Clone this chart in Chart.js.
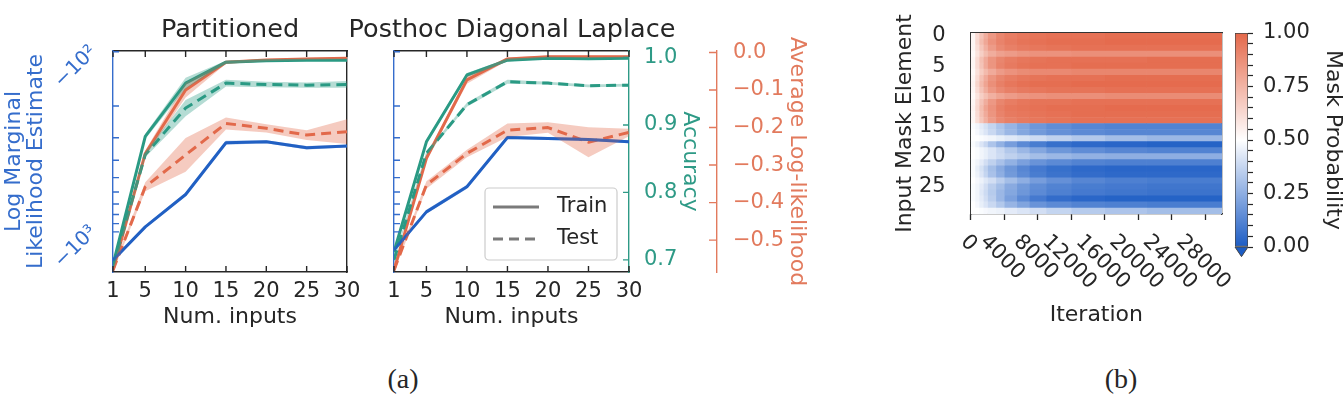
<!DOCTYPE html>
<html>
<head>
<meta charset="utf-8">
<script src="https://cdn.jsdelivr.net/npm/chart.js@4.4.1/dist/chart.umd.min.js"></script>
<style>
  html, body { margin: 0; padding: 0; background: #fff; }
  body { width: 1344px; height: 394px; position: relative; overflow: hidden; font-family: 'DejaVu Sans', sans-serif; }
  canvas { position: absolute; top: 0; }
  .t { position: absolute; white-space: nowrap; text-align: center; color: #262626; line-height: 1; }
  .cap { font-family: 'Liberation Serif', serif; font-size: 28px; }
</style>
</head>
<body>
<canvas id="cPart" width="360" height="340" style="left:0px"></canvas>
<canvas id="cLap" width="460" height="340" style="left:360px"></canvas>
<canvas id="cMask" width="370" height="340" style="left:880px"></canvas>
<canvas id="cBar" width="119" height="340" style="left:1225px"></canvas>

<div class="t" style="left:30px;width:400px;top:16px;font-size:25.5px">Partitioned</div>
<div class="t" style="left:262px;width:500px;top:16px;font-size:25.5px">Posthoc Diagonal Laplace</div>
<div class="t cap" style="left:353px;width:100px;top:365px">(a)</div>
<div class="t cap" style="left:1071px;width:100px;top:365px">(b)</div>

<script>
// ---- data ----
const inputs = [1, 5, 10, 15, 20, 25, 30];

// Partitioned (LML stored as magnitude, axis shows it negated)
const partLml = [1436, 938, 620, 320, 316, 341, 334];
const partLmlSd = [20, 20, 15, 8, 6, 8, 6];
const partAccTrain = [0.693, 0.883, 0.962, 0.993, 0.995, 0.996, 0.996];
const partAccTrainSd = [0.003, 0.004, 0.008, 0.002, 0.001, 0.001, 0.001];
const partAccTest = [0.690, 0.856, 0.925, 0.962, 0.960, 0.959, 0.960];
const partAccTestSd = [0.003, 0.004, 0.012, 0.005, 0.004, 0.004, 0.005];
const partLlTrain = [-0.580, -0.269, -0.100, -0.026, -0.020, -0.017, -0.015];
const partLlTrainSd = [0.005, 0.008, 0.020, 0.004, 0.003, 0.003, 0.003];
const partLlTest = [-0.580, -0.358, -0.273, -0.189, -0.202, -0.220, -0.211];
const partLlTestSd = [0.005, 0.012, 0.045, 0.016, 0.011, 0.013, 0.033];

// Posthoc Diagonal Laplace
const lapLml = [1260, 774, 562, 299, 303, 307, 316];
const lapLmlSd = [20, 20, 14, 6, 6, 6, 6];
const lapAccTrain = [0.712, 0.875, 0.974, 0.996, 0.999, 0.998, 0.999];
const lapAccTrainSd = [0.003, 0.003, 0.003, 0.002, 0.001, 0.001, 0.001];
const lapAccTest = [0.700, 0.858, 0.930, 0.964, 0.962, 0.958, 0.959];
const lapAccTestSd = [0.003, 0.003, 0.003, 0.003, 0.002, 0.002, 0.002];
const lapLlTrain = [-0.580, -0.282, -0.073, -0.017, -0.011, -0.011, -0.011];
const lapLlTrainSd = [0.004, 0.006, 0.010, 0.004, 0.003, 0.003, 0.003];
const lapLlTest = [-0.580, -0.353, -0.269, -0.207, -0.200, -0.239, -0.213];
const lapLlTestSd = [0.005, 0.010, 0.010, 0.018, 0.014, 0.040, 0.010];

const lmlTicks = [100, 200, 300, 400, 500, 600, 700, 800, 900, 1000];
const lmlLabels = [[100, '−10²'], [1000, '−10³']];
const accTicks = [0.7, 0.8, 0.9, 1.0];
const llTicks = [0, -0.1, -0.2, -0.3, -0.4, -0.5];
const legendLabels = ['Train', 'Test'];

// mask probabilities: rows = input mask element, columns = iteration segments
const maskEdges = [0, 500, 1000, 1500, 2000, 3000, 4000, 5500, 7000, 9000, 12000, 16000, 21000, 30000];
const maskRows = Array.from({length: 30}, (_, i) => String(i));
const maskProb = [
  [0.53,0.62,0.70,0.77,0.84,0.90,0.93,0.95,0.96,0.97,0.97,0.98,0.98],
  [0.53,0.63,0.72,0.79,0.86,0.91,0.94,0.96,0.97,0.98,0.98,0.99,0.99],
  [0.53,0.61,0.69,0.76,0.83,0.89,0.92,0.94,0.95,0.96,0.97,0.97,0.97],
  [0.52,0.59,0.66,0.72,0.77,0.81,0.83,0.85,0.86,0.86,0.87,0.87,0.87],
  [0.53,0.62,0.71,0.78,0.85,0.90,0.93,0.95,0.96,0.97,0.97,0.97,0.98],
  [0.53,0.62,0.70,0.78,0.85,0.91,0.94,0.96,0.97,0.97,0.98,0.98,0.98],
  [0.52,0.60,0.67,0.73,0.78,0.83,0.86,0.88,0.89,0.89,0.90,0.90,0.90],
  [0.53,0.62,0.71,0.78,0.85,0.90,0.93,0.95,0.96,0.97,0.97,0.98,0.98],
  [0.54,0.64,0.73,0.80,0.87,0.92,0.95,0.97,0.98,0.98,0.99,0.99,0.99],
  [0.53,0.62,0.70,0.77,0.84,0.89,0.92,0.94,0.95,0.96,0.96,0.97,0.97],
  [0.52,0.59,0.66,0.71,0.76,0.80,0.83,0.85,0.86,0.87,0.87,0.88,0.88],
  [0.53,0.62,0.70,0.77,0.84,0.90,0.93,0.95,0.96,0.96,0.97,0.97,0.97],
  [0.54,0.63,0.72,0.80,0.86,0.92,0.95,0.96,0.97,0.98,0.98,0.99,0.99],
  [0.53,0.62,0.71,0.78,0.85,0.91,0.94,0.95,0.96,0.97,0.98,0.98,0.98],
  [0.53,0.61,0.69,0.76,0.83,0.89,0.92,0.94,0.95,0.96,0.97,0.97,0.97],
  [0.49,0.47,0.44,0.41,0.37,0.32,0.27,0.22,0.18,0.15,0.13,0.12,0.12],
  [0.50,0.48,0.45,0.42,0.38,0.33,0.28,0.23,0.19,0.16,0.14,0.13,0.13],
  [0.50,0.50,0.49,0.48,0.47,0.45,0.43,0.41,0.39,0.36,0.33,0.30,0.28],
  [0.49,0.46,0.42,0.38,0.32,0.26,0.20,0.14,0.10,0.06,0.04,0.03,0.02],
  [0.50,0.49,0.47,0.45,0.42,0.38,0.33,0.28,0.23,0.18,0.15,0.13,0.12],
  [0.50,0.49,0.47,0.45,0.42,0.39,0.36,0.33,0.30,0.28,0.26,0.25,0.25],
  [0.49,0.47,0.44,0.40,0.36,0.31,0.26,0.21,0.17,0.14,0.12,0.11,0.11],
  [0.49,0.45,0.41,0.36,0.30,0.24,0.18,0.13,0.09,0.06,0.04,0.03,0.03],
  [0.49,0.46,0.42,0.37,0.31,0.25,0.19,0.14,0.10,0.07,0.05,0.04,0.04],
  [0.50,0.48,0.46,0.43,0.40,0.35,0.30,0.25,0.20,0.16,0.13,0.11,0.10],
  [0.49,0.47,0.44,0.40,0.35,0.30,0.24,0.19,0.15,0.12,0.10,0.09,0.08],
  [0.49,0.47,0.43,0.39,0.34,0.28,0.23,0.18,0.14,0.11,0.09,0.08,0.07],
  [0.49,0.47,0.44,0.40,0.35,0.28,0.21,0.14,0.09,0.05,0.03,0.02,0.02],
  [0.50,0.48,0.45,0.42,0.38,0.33,0.27,0.22,0.17,0.14,0.12,0.11,0.10],
  [0.50,0.50,0.49,0.48,0.47,0.46,0.44,0.42,0.40,0.37,0.34,0.32,0.30]
];
const iterTicks = [0, 4000, 8000, 12000, 16000, 20000, 24000, 28000];
const cbarTicks = [0, 0.05, 0.1, 0.15, 0.2, 0.25, 0.3, 0.35, 0.4, 0.45, 0.5, 0.55, 0.6, 0.65, 0.7, 0.75, 0.8, 0.85, 0.9, 0.95, 1];
const cbarLabels = [0, 0.25, 0.5, 0.75, 1];

// ---- styling ----
const INK = '#262626';
const BLUE = '#2160c4', TEAL = '#2a9a84', RED = '#e2694b';
const BLUE_TXT = '#356dcc', TEAL_TXT = '#2e9a86', RED_TXT = '#e27a5d';
const DASH = [10, 6];
const LML_RANGE = [99, 1670], ACC_RANGE = [0.682, 1.0096], LL_RANGE = [-0.585, 0.004];
const cmapStops = [[0, [28, 92, 196]], [0.5, [255, 255, 255]], [1, [228, 104, 74]]];

Chart.defaults.font.family = "'DejaVu Sans', sans-serif";
Chart.defaults.color = INK;
Chart.defaults.animation = false;

function cmap(v) {
  const [a, b] = v <= 0.5 ? [cmapStops[0], cmapStops[1]] : [cmapStops[1], cmapStops[2]];
  const f = (v - a[0]) / (b[0] - a[0]);
  const c = a[1].map((x, i) => Math.round(x + (b[1][i] - x) * f));
  return `rgb(${c[0]},${c[1]},${c[2]})`;
}

function rgba(hex, a) {
  const n = parseInt(hex.slice(1), 16);
  return `rgba(${n >> 16},${(n >> 8) & 255},${n & 255},${a})`;
}

function fixSize(px) {
  return s => {
    if (s.isHorizontal()) s.height = px; else s.width = px;
    s.paddingLeft = s.paddingRight = s.paddingTop = s.paddingBottom = 0;
  };
}

function setTicks(values) {
  return s => { s.ticks = values.map(v => ({value: v})); };
}

// tick marks pointing into the plot, drawn from the scales
const innerTicks = {
  id: 'innerTicks',
  afterDatasetsDraw(chart, args, o) {
    const {ctx, chartArea: a} = chart;
    (o.marks || []).forEach(m => {
      const sc = chart.scales[m.scale];
      ctx.save();
      ctx.strokeStyle = m.color;
      ctx.lineWidth = 1.4;
      ctx.beginPath();
      m.values.forEach(v => {
        const p = sc.getPixelForValue(v);
        if (sc.isHorizontal()) {
          const y0 = m.side === 'top' ? a.top : a.bottom;
          const d = m.side === 'top' ? 1 : -1;
          ctx.moveTo(p, y0); ctx.lineTo(p, y0 + d * m.len);
        } else {
          const x0 = m.side === 'left' ? a.left : m.side === 'right' ? a.right : sc.left;
          const d = m.side === 'left' ? 1 : -1;
          ctx.moveTo(x0, p); ctx.lineTo(x0 + d * m.len, p);
        }
      });
      ctx.stroke();
      ctx.restore();
    });
  }
};

// slanted tick labels
const slantLabels = {
  id: 'slantLabels',
  afterDraw(chart, args, o) {
    if (!o.labels) return;
    const {ctx, chartArea: a} = chart;
    const sc = chart.scales[o.scale];
    ctx.save();
    ctx.font = `${o.size}px 'DejaVu Sans'`;
    ctx.fillStyle = o.color;
    ctx.textAlign = 'center';
    ctx.textBaseline = 'middle';
    o.labels.forEach(([v, text]) => {
      const w = ctx.measureText(text).width;
      const half = (w + o.size * 0.75) * Math.SQRT1_2 / 2;
      let x, y;
      if (sc.isHorizontal()) {
        x = sc.getPixelForValue(v) + o.dx;
        y = a.bottom + o.gap + half;
      } else {
        x = a.left - o.gap - half;
        y = sc.getPixelForValue(v) + o.dy;
      }
      ctx.save();
      ctx.translate(x, y);
      ctx.rotate(o.angle);
      ctx.fillText(text, 0, 0);
      ctx.restore();
    });
    ctx.restore();
  }
};

const boxLegend = {
  id: 'boxLegend',
  afterDatasetsDraw(chart, args, o) {
    if (!o.items) return;
    const {ctx, chartArea: a} = chart;
    const w = 132, h = 72, x = a.right - 12 - w, y = a.bottom - 12 - h;
    ctx.save();
    ctx.beginPath();
    ctx.roundRect(x, y, w, h, 4);
    ctx.fillStyle = 'rgba(255,255,255,0.8)';
    ctx.fill();
    ctx.strokeStyle = '#cccccc';
    ctx.lineWidth = 1.2;
    ctx.stroke();
    o.items.forEach((it, i) => {
      const cy = y + 19 + i * 32;
      ctx.beginPath();
      ctx.setLineDash(it.dash);
      ctx.strokeStyle = '#7a7a7a';
      ctx.lineWidth = 3;
      ctx.moveTo(x + 8, cy);
      ctx.lineTo(x + 54, cy);
      ctx.stroke();
      ctx.setLineDash([]);
      ctx.fillStyle = INK;
      ctx.font = "21px 'DejaVu Sans'";
      ctx.textBaseline = 'middle';
      ctx.fillText(it.label, x + 72, cy);
    });
    ctx.restore();
  }
};

function pts(arr) {
  return arr.map((v, i) => ({x: inputs[i], y: v}));
}

function lineSets(p) {
  const series = [
    {axis: 'lml', mean: p.lml, sd: p.lmlSd, color: BLUE, dash: []},
    {axis: 'acc', mean: p.accTest, sd: p.accTestSd, color: TEAL, dash: DASH},
    {axis: 'acc', mean: p.accTrain, sd: p.accTrainSd, color: TEAL, dash: []},
    {axis: 'll', mean: p.llTest, sd: p.llTestSd, color: RED, dash: DASH},
    {axis: 'll', mean: p.llTrain, sd: p.llTrainSd, color: RED, dash: []}
  ];
  const sets = [];
  series.forEach(s => {
    sets.push({data: pts(s.mean.map((m, i) => m - s.sd[i])), yAxisID: s.axis,
      borderWidth: 0, borderColor: 'transparent', pointRadius: 0, fill: false});
    sets.push({data: pts(s.mean.map((m, i) => m + s.sd[i])), yAxisID: s.axis,
      borderWidth: 0, borderColor: 'transparent', pointRadius: 0, fill: '-1',
      backgroundColor: rgba(s.color, 0.35)});
  });
  series.forEach(s => {
    sets.push({data: pts(s.mean), yAxisID: s.axis, borderColor: s.color, borderWidth: 3,
      borderDash: s.dash, borderJoinStyle: 'round', pointRadius: 0, fill: false});
  });
  return sets;
}

function linePanel(id, p, full) {
  const frame = {color: INK, width: 1.4};
  const tickFont = {size: 21};
  const marks = [
    {scale: 'x', values: inputs, side: 'bottom', len: 6, color: INK},
    {scale: 'x', values: inputs, side: 'top', len: 6, color: INK},
    {scale: 'lml', values: lmlTicks, side: 'left', len: 6, color: BLUE_TXT}
  ];
  if (full) {
    marks.push({scale: 'acc', values: accTicks, side: 'right', len: 6, color: TEAL_TXT});
    marks.push({scale: 'll', values: llTicks, side: 'axis', len: 8, color: RED_TXT});
  }
  return new Chart(document.getElementById(id), {
    type: 'line',
    data: {datasets: lineSets(p)},
    plugins: [innerTicks, slantLabels, boxLegend],
    options: {
      responsive: false,
      devicePixelRatio: 1,
      layout: {padding: {left: 0, top: 51, right: full ? 0 : 13, bottom: 0}},
      plugins: {
        legend: {display: false},
        tooltip: {enabled: false},
        innerTicks: {marks},
        slantLabels: full ? {} : {scale: 'lml', labels: lmlLabels, size: 20, color: BLUE_TXT,
          gap: 14, dy: 15, dx: 0, angle: -Math.PI / 4},
        boxLegend: full ? {items: legendLabels.map((l, i) => ({label: l, dash: i ? DASH : []}))} : {}
      },
      scales: {
        x: {
          type: 'linear', min: 1, max: 30,
          afterBuildTicks: setTicks(inputs),
          afterFit: fixSize(68),
          grid: {display: false},
          border: frame,
          ticks: {font: tickFont, color: INK, padding: -1, maxRotation: 0, autoSkip: false,
            callback: v => String(v)},
          title: {display: true, text: 'Num. inputs', font: {size: 22}, color: INK,
            padding: {top: 0, bottom: 10}}
        },
        xTop: {
          type: 'linear', position: 'top', min: 1, max: 30,
          afterFit: fixSize(0),
          grid: {display: false}, ticks: {display: false}, border: frame
        },
        lml: {
          type: 'logarithmic', position: 'left', reverse: true,
          min: LML_RANGE[0], max: LML_RANGE[1],
          afterFit: fixSize(full ? 34 : 113),
          grid: {display: false}, ticks: {display: false},
          border: {color: BLUE_TXT, width: 1.4},
          title: {display: !full, text: ['Log Marginal', 'Likelihood Estimate'],
            font: {size: 22, lineHeight: 1}, color: BLUE_TXT, padding: {top: 3, bottom: 0}}
        },
        acc: {
          type: 'linear', position: 'right', weight: 1,
          min: ACC_RANGE[0], max: ACC_RANGE[1],
          afterBuildTicks: setTicks(accTicks),
          afterFit: fixSize(full ? 88 : 0),
          grid: {display: false},
          ticks: {display: full, font: tickFont, color: TEAL_TXT, padding: 7,
            callback: v => v.toFixed(1)},
          border: full ? {color: TEAL_TXT, width: 1.4} : frame,
          title: {display: full, text: 'Accuracy', font: {size: 22}, color: TEAL_TXT,
            padding: {top: 14, bottom: 0}}
        },
        ll: {
          type: 'linear', position: 'right', weight: 2, display: full,
          min: LL_RANGE[0], max: LL_RANGE[1],
          afterBuildTicks: setTicks(llTicks),
          afterFit: fixSize(full ? 103 : 0),
          grid: {display: false},
          ticks: {font: tickFont, color: RED_TXT, padding: 8,
            callback: v => (Math.abs(v) < 1e-9 ? '0.0' : '−' + Math.abs(v).toFixed(1))},
          border: {color: RED_TXT, width: 1.4},
          title: {display: true, text: 'Average Log-likelihood', font: {size: 22}, color: RED_TXT,
            padding: {top: 10, bottom: 0}}
        }
      }
    }
  });
}

linePanel('cPart', {
  lml: partLml, lmlSd: partLmlSd,
  accTrain: partAccTrain, accTrainSd: partAccTrainSd, accTest: partAccTest, accTestSd: partAccTestSd,
  llTrain: partLlTrain, llTrainSd: partLlTrainSd, llTest: partLlTest, llTestSd: partLlTestSd
}, false);

linePanel('cLap', {
  lml: lapLml, lmlSd: lapLmlSd,
  accTrain: lapAccTrain, accTrainSd: lapAccTrainSd, accTest: lapAccTest, accTestSd: lapAccTestSd,
  llTrain: lapLlTrain, llTrainSd: lapLlTrainSd, llTest: lapLlTest, llTestSd: lapLlTestSd
}, true);

// ---- heatmap of mask probabilities (floating horizontal bars) ----
const frameDark = {color: '#333333', width: 1.3};
new Chart(document.getElementById('cMask'), {
  type: 'bar',
  data: {
    labels: maskRows,
    datasets: maskEdges.slice(0, -1).map((e, j) => ({
      data: maskRows.map(() => [maskEdges[j], maskEdges[j + 1]]),
      backgroundColor: maskProb.map(row => cmap(row[j])),
      borderWidth: 0, grouped: false, barPercentage: 1, categoryPercentage: 1
    }))
  },
  plugins: [slantLabels],
  options: {
    indexAxis: 'y',
    responsive: false,
    devicePixelRatio: 1,
    layout: {padding: {left: 0, top: 33, right: 28, bottom: 0}},
    plugins: {
      legend: {display: false},
      tooltip: {enabled: false},
      slantLabels: {scale: 'x', labels: iterTicks.map(v => [v, String(v)]), size: 21, color: INK,
        gap: 19, dx: -2, dy: 0, angle: Math.PI / 4}
    },
    scales: {
      x: {
        type: 'linear', min: 0, max: 30000,
        afterBuildTicks: setTicks(iterTicks),
        afterFit: fixSize(126),
        grid: {display: true, drawOnChartArea: false, tickLength: 6, tickColor: INK, tickWidth: 1.3},
        ticks: {display: false},
        border: frameDark,
        title: {display: true, text: 'Iteration', font: {size: 22}, color: INK,
          padding: {top: 0, bottom: 12}}
      },
      y: {
        type: 'category', position: 'left',
        afterFit: fixSize(90.7),
        grid: {display: false},
        border: frameDark,
        ticks: {autoSkip: false, font: {size: 21}, color: INK, padding: 17,
          callback: (v, i) => (i % 5 === 0 ? maskRows[i] : '')},
        title: {display: true, text: 'Input Mask Element', font: {size: 22}, color: INK,
          padding: {top: 12, bottom: 0}}
      },
      xTop: {type: 'linear', position: 'top', min: 0, max: 30000, afterFit: fixSize(0),
        grid: {display: false}, ticks: {display: false}, border: frameDark},
      yRight: {type: 'linear', position: 'right', min: 0, max: 1, afterFit: fixSize(0),
        grid: {display: false}, ticks: {display: false}, border: frameDark}
    }
  }
});

// ---- colorbar ----
const cbarExtend = {
  id: 'cbarExtend',
  afterDatasetsDraw(chart) {
    const {ctx, chartArea: a} = chart;
    const y = chart.scales.y;
    const base = y.getPixelForValue(0), tip = y.getPixelForValue(-0.045);
    ctx.save();
    ctx.beginPath();
    ctx.moveTo(a.left, base);
    ctx.lineTo(a.right, base);
    ctx.lineTo((a.left + a.right) / 2, tip);
    ctx.closePath();
    ctx.fillStyle = cmap(0);
    ctx.fill();
    ctx.strokeStyle = '#444444';
    ctx.lineWidth = 1;
    ctx.stroke();
    ctx.restore();
  }
};

new Chart(document.getElementById('cBar'), {
  type: 'bar',
  data: {
    labels: [''],
    datasets: [{
      data: [[0, 1]],
      backgroundColor: c => {
        const a = c.chart.chartArea;
        if (!a) return cmap(0.5);
        const g = c.chart.ctx.createLinearGradient(0, a.bottom, 0, a.top);
        [0, 0.125, 0.25, 0.375, 0.5, 0.625, 0.75, 0.875, 1].forEach(s => g.addColorStop(s, cmap(s)));
        return g;
      },
      borderWidth: 1, borderColor: '#444444', borderSkipped: false,
      barPercentage: 1, categoryPercentage: 1
    }]
  },
  plugins: [cbarExtend],
  options: {
    responsive: false,
    devicePixelRatio: 1,
    layout: {padding: {left: 10, top: 33, right: 0, bottom: 93}},
    plugins: {legend: {display: false}, tooltip: {enabled: false}},
    scales: {
      x: {display: false},
      y: {
        position: 'right', min: 0, max: 1,
        afterBuildTicks: setTicks(cbarTicks),
        afterFit: fixSize(96),
        grid: {display: true, drawOnChartArea: false, tickLength: 5, tickColor: INK, tickWidth: 1.2},
        border: {display: false},
        ticks: {autoSkip: false, font: {size: 21}, color: INK, padding: 10,
          callback: v => (cbarLabels.some(l => Math.abs(l - v) < 1e-6) ? v.toFixed(2) : '')},
        title: {display: true, text: 'Mask Probability', font: {size: 22, lineHeight: 1}, color: INK,
          padding: {top: 0, bottom: 0}}
      }
    }
  }
});
</script>
</body>
</html>
